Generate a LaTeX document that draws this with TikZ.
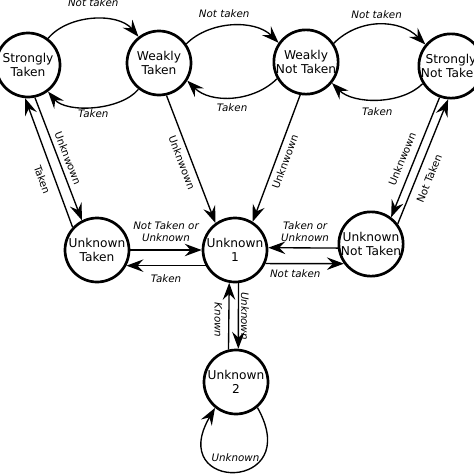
\documentclass[tikz,border=0pt]{standalone}
\usepackage{fontspec}
\setmainfont{DejaVu Sans}
\usetikzlibrary{arrows.meta}
\begin{document}
\begin{tikzpicture}[x=1pt,y=1pt,
  stnode/.style={circle,draw,line width=2.7pt,minimum size=64pt,inner sep=0pt,align=center,font=\fontsize{12.2}{14}\selectfont},
  arr/.style={line width=1.35pt,-{Stealth[length=17pt,width=12.5pt,inset=6pt]}},
  lbl/.style={font=\fontsize{10.3}{12}\selectfont\itshape,inner sep=1.5pt,align=center},
  dlbl/.style={font=\fontsize{10.3}{12}\selectfont,inner sep=1.5pt}]
\useasboundingbox (0,0) rectangle (474,-474);
\node[stnode] (st) at (28,-65) {Strongly\\Taken};
\node[stnode] (wt) at (159,-63) {Weakly\\Taken};
\node[stnode] (wnt) at (306,-62) {Weakly\\Not Taken};
\node[stnode] (snt) at (451,-66) {Strongly\\Not Taken};
\node[stnode] (ut) at (97,-250) {Unknown\\Taken};
\node[stnode] (u1) at (235,-250) {Unknown\\1};
\node[stnode] (unt) at (371,-244) {Unknown\\Not Taken};
\node[stnode] (u2) at (236,-382) {Unknown\\2};
% top row arcs
\draw[arr] (st.53) to[out=50,in=130,looseness=0.9] node[lbl,above=10.5pt]{Not taken} (wt.128);
\draw[arr] (wt.-128) to[out=-130,in=-50,looseness=0.8] node[lbl,below=0.5pt]{Taken} (st.-53);
\draw[arr] (wt.35) to[out=45,in=135,looseness=0.92] node[lbl,pos=0.42,above=6.5pt]{Not taken} (wnt.145);
\draw[arr] (wnt.-150) to[out=-135,in=-45,looseness=0.94] node[lbl,below=4.5pt]{Taken} (wt.-32);
\draw[arr] (wnt.34) to[out=45,in=135,looseness=1.01] node[lbl,pos=0.47,above=3.5pt]{Not taken} (snt.140);
\draw[arr] (snt.-148) to[out=-135,in=-45,looseness=0.85] node[lbl,below=6.5pt]{Taken} (wnt.-39);
% diagonals
\draw[arr] (st.-78) -- node[dlbl,sloped,above=3pt,pos=0.52]{Unknwown} (ut.117);
\draw[arr] (ut.137) -- node[dlbl,sloped,below=6pt,pos=0.4]{Taken} (st.-95);
\draw[arr] (wt.-77) -- node[dlbl,sloped,below=3.5pt]{Unknwown} (u1.126);
\draw[arr] (wnt.-100) -- node[dlbl,sloped,below=3pt]{Unknwown} (u1.58);
\draw[arr] (snt.-110) -- node[dlbl,sloped,above=5.5pt,pos=0.55]{Unknwown} (unt.53);
\draw[arr] (unt.37) -- node[dlbl,sloped,below=6pt,pos=0.4]{Not Taken} (snt.-95);
% horizontals
\draw[arr] (ut.0) -- node[lbl,above=6.5pt]{Not Taken or\\Unknown} (u1.180);
\draw[arr] (u1.-152) -- node[lbl,below=6.5pt]{Taken} (ut.-28);
\draw[arr] (unt.187) -- node[lbl,above=4.5pt,pos=0.47]{Taken or\\Unknown} (u1.4);
\draw[arr] (u1.-24) -- node[lbl,below=3.5pt,pos=0.38]{Not taken} (unt.-144);
% verticals
\draw[arr] (u2.103) -- node[lbl,pos=0.44,rotate=-90,anchor=north,inner sep=6pt]{Known} (u1.-100);
\draw[arr] (u1.-84) -- node[lbl,rotate=-90,anchor=south,inner sep=2pt]{Unknown} (u2.86);
% self loop
\draw[arr] (u2.-50) .. controls +(48,-85) and +(-50,-85) .. node[lbl,pos=0.5,above=7.5pt]{Unknown} (u2.-129);
\end{tikzpicture}
\end{document}
